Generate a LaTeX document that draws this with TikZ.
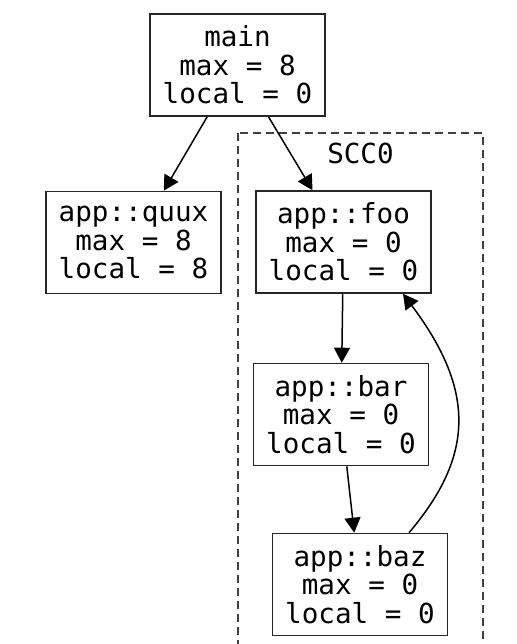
\documentclass[tikz,border=0pt]{standalone}
\usepackage{fontspec}
\setmonofont{DejaVu Sans Mono}
\usetikzlibrary{positioning,arrows.meta}

\begin{document}
\begin{tikzpicture}[x=0.5pt,y=-0.5pt,
  fn/.style={draw=black!85,line width=0.8pt,minimum width=87.5pt,minimum height=51pt,
    inner sep=0pt,align=center,font=\ttfamily\fontsize{13.8}{14.3}\selectfont},
  call/.style={line width=0.75pt,-{Triangle[length=7.5pt,width=8pt]}}]
\useasboundingbox (0,0) rectangle (517,644);
% cluster
\draw [black!75,line width=0.7pt,dash pattern=on 4pt off 2.5pt] (238,133) rectangle (483,660);
\node (scc) at (360.5,153) {\ttfamily\fontsize{13.8}{14.3}\selectfont SCC0};
% functions
\node [fn] (main) at (237.5,65) {main\\max = 8\\local = 0};
\node [fn] (quux) at (133.5,242.5) {app::quux\\max = 8\\local = 8};
\node [fn] (foo) at (343.5,242) {app::foo\\max = 0\\local = 0};
\node [fn] (bar) at (341,414.5) {app::bar\\max = 0\\local = 0};
\node [fn] (baz) at (360,584.5) {app::baz\\max = 0\\local = 0};
% calls
\draw [call] (main) -- (quux);
\draw [call] (main) -- (foo);
\draw [call] (foo) -- (bar);
\draw [call] (bar) -- (baz);
\draw [call] ([xshift=24.5pt]baz.north) .. controls (475,455) and (475,390) .. ([xshift=29.75pt]foo.south);
\end{tikzpicture}
\end{document}
